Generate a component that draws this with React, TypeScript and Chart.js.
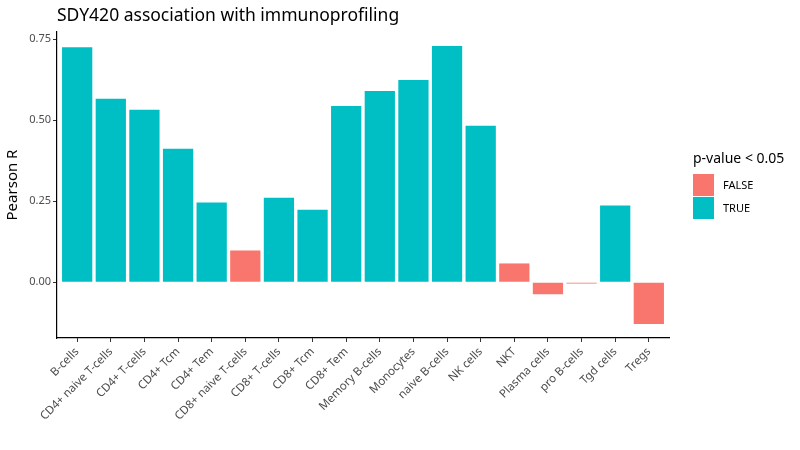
import React, { useEffect, useRef } from "react";
import { Chart, registerables } from "chart.js";

Chart.register(...registerables);

const categories = [
  "B-cells", "CD4+ naive T-cells", "CD4+ T-cells", "CD4+ Tcm", "CD4+ Tem",
  "CD8+ naive T-cells", "CD8+ T-cells", "CD8+ Tcm", "CD8+ Tem", "Memory B-cells",
  "Monocytes", "naive B-cells", "NK cells", "NKT", "Plasma cells", "pro B-cells",
  "Tgd cells", "Tregs",
];
const pearsonR = [
  0.725, 0.566, 0.532, 0.412, 0.246, 0.098, 0.261, 0.224, 0.544, 0.590,
  0.624, 0.729, 0.483, 0.058, -0.037, -0.004, 0.237, -0.129,
];
const significant = [
  true, true, true, true, true, false, true, true, true, true,
  true, true, true, false, false, false, true, false,
];
const yTicks = [0, 0.25, 0.5, 0.75];
const legendLabels = ["FALSE", "TRUE"];
const legendColors = ["#F8766D", "#00BFC4"];

const FONT = "'Noto Sans', 'Open Sans', sans-serif";

export default function App() {
  const ref = useRef<HTMLCanvasElement | null>(null);
  useEffect(() => {
    if (!ref.current) return;
    const chart = new Chart(ref.current, {
      type: "bar",
      data: {
        datasets: [
          {
            data: pearsonR.map((v, i) => ({ x: i, y: v })),
            backgroundColor: significant.map((s) => (s ? legendColors[1] : legendColors[0])),
            barPercentage: 0.9,
            categoryPercentage: 1,
            borderWidth: 0,
          },
        ],
      },
      options: {
        animation: false,
        responsive: false,
        maintainAspectRatio: false,
        layout: { padding: { top: 32, right: 131, left: 0, bottom: 0 } },
        plugins: { legend: { display: false }, title: { display: false }, tooltip: { enabled: false } },
        scales: {
          x: {
            type: "linear",
            offset: false,
            min: -0.6,
            max: 17.6,
            afterBuildTicks: (scale: any) => {
              scale.ticks = categories.map((_, i) => ({ value: i }));
            },
            afterFit: (scale: any) => {
              scale.height = 112;
            },
            ticks: {
              autoSkip: false,
              minRotation: 45,
              maxRotation: 45,
              color: "#4d4d4d",
              font: { family: FONT, size: 11.5 },
              padding: 3,
              callback: (v: any) => categories[Math.round(Number(v))] ?? "",
            },
            grid: {
              display: true,
              offset: false,
              drawOnChartArea: false,
              drawTicks: true,
              tickLength: 4,
              color: "#333333",
            },
            border: { display: true, color: "#000000", width: 1.2 },
          },
          y: {
            min: -0.172,
            max: 0.772,
            afterBuildTicks: (scale: any) => {
              scale.ticks = yTicks.map((v) => ({ value: v }));
            },
            afterFit: (scale: any) => {
              scale.width = 57;
            },
            ticks: {
              color: "#4d4d4d",
              font: { family: FONT, size: 11 },
              padding: 2,
              callback: (v: any) => Number(v).toFixed(2),
            },
            grid: {
              display: true,
              drawOnChartArea: false,
              drawTicks: true,
              tickLength: 4,
              color: "#333333",
            },
            border: { display: true, color: "#000000", width: 1.2 },
            title: {
              display: true,
              text: "Pearson R",
              color: "#000000",
              font: { family: FONT, size: 15 },
              padding: { top: 4, bottom: 2 },
            },
          },
        },
      },
    });
    return () => chart.destroy();
  }, []);

  return (
    <div style={{ position: "fixed", left: 0, top: 0, width: 800, height: 450, background: "#fff", fontFamily: FONT }}>
      <canvas ref={ref} width={800} height={450} style={{ position: "absolute", left: 0, top: 0 }} />
      <div style={{ position: "absolute", left: 57, top: 2, fontSize: 17.5, color: "#000", whiteSpace: "nowrap" }}>
        SDY420 association with immunoprofiling
      </div>
      <div style={{ position: "absolute", left: 693, top: 148, color: "#000" }}>
        <div style={{ fontSize: 14, marginBottom: 6, whiteSpace: "nowrap" }}>p-value &lt; 0.05</div>
        {legendLabels.map((l, i) => (
          <div key={l} style={{ display: "flex", alignItems: "center", height: 23 }}>
            <div style={{ width: 21, height: 22, background: legendColors[i] }} />
            <div style={{ fontSize: 11, marginLeft: 9, color: "#000" }}>{l}</div>
          </div>
        ))}
      </div>
    </div>
  );
}
